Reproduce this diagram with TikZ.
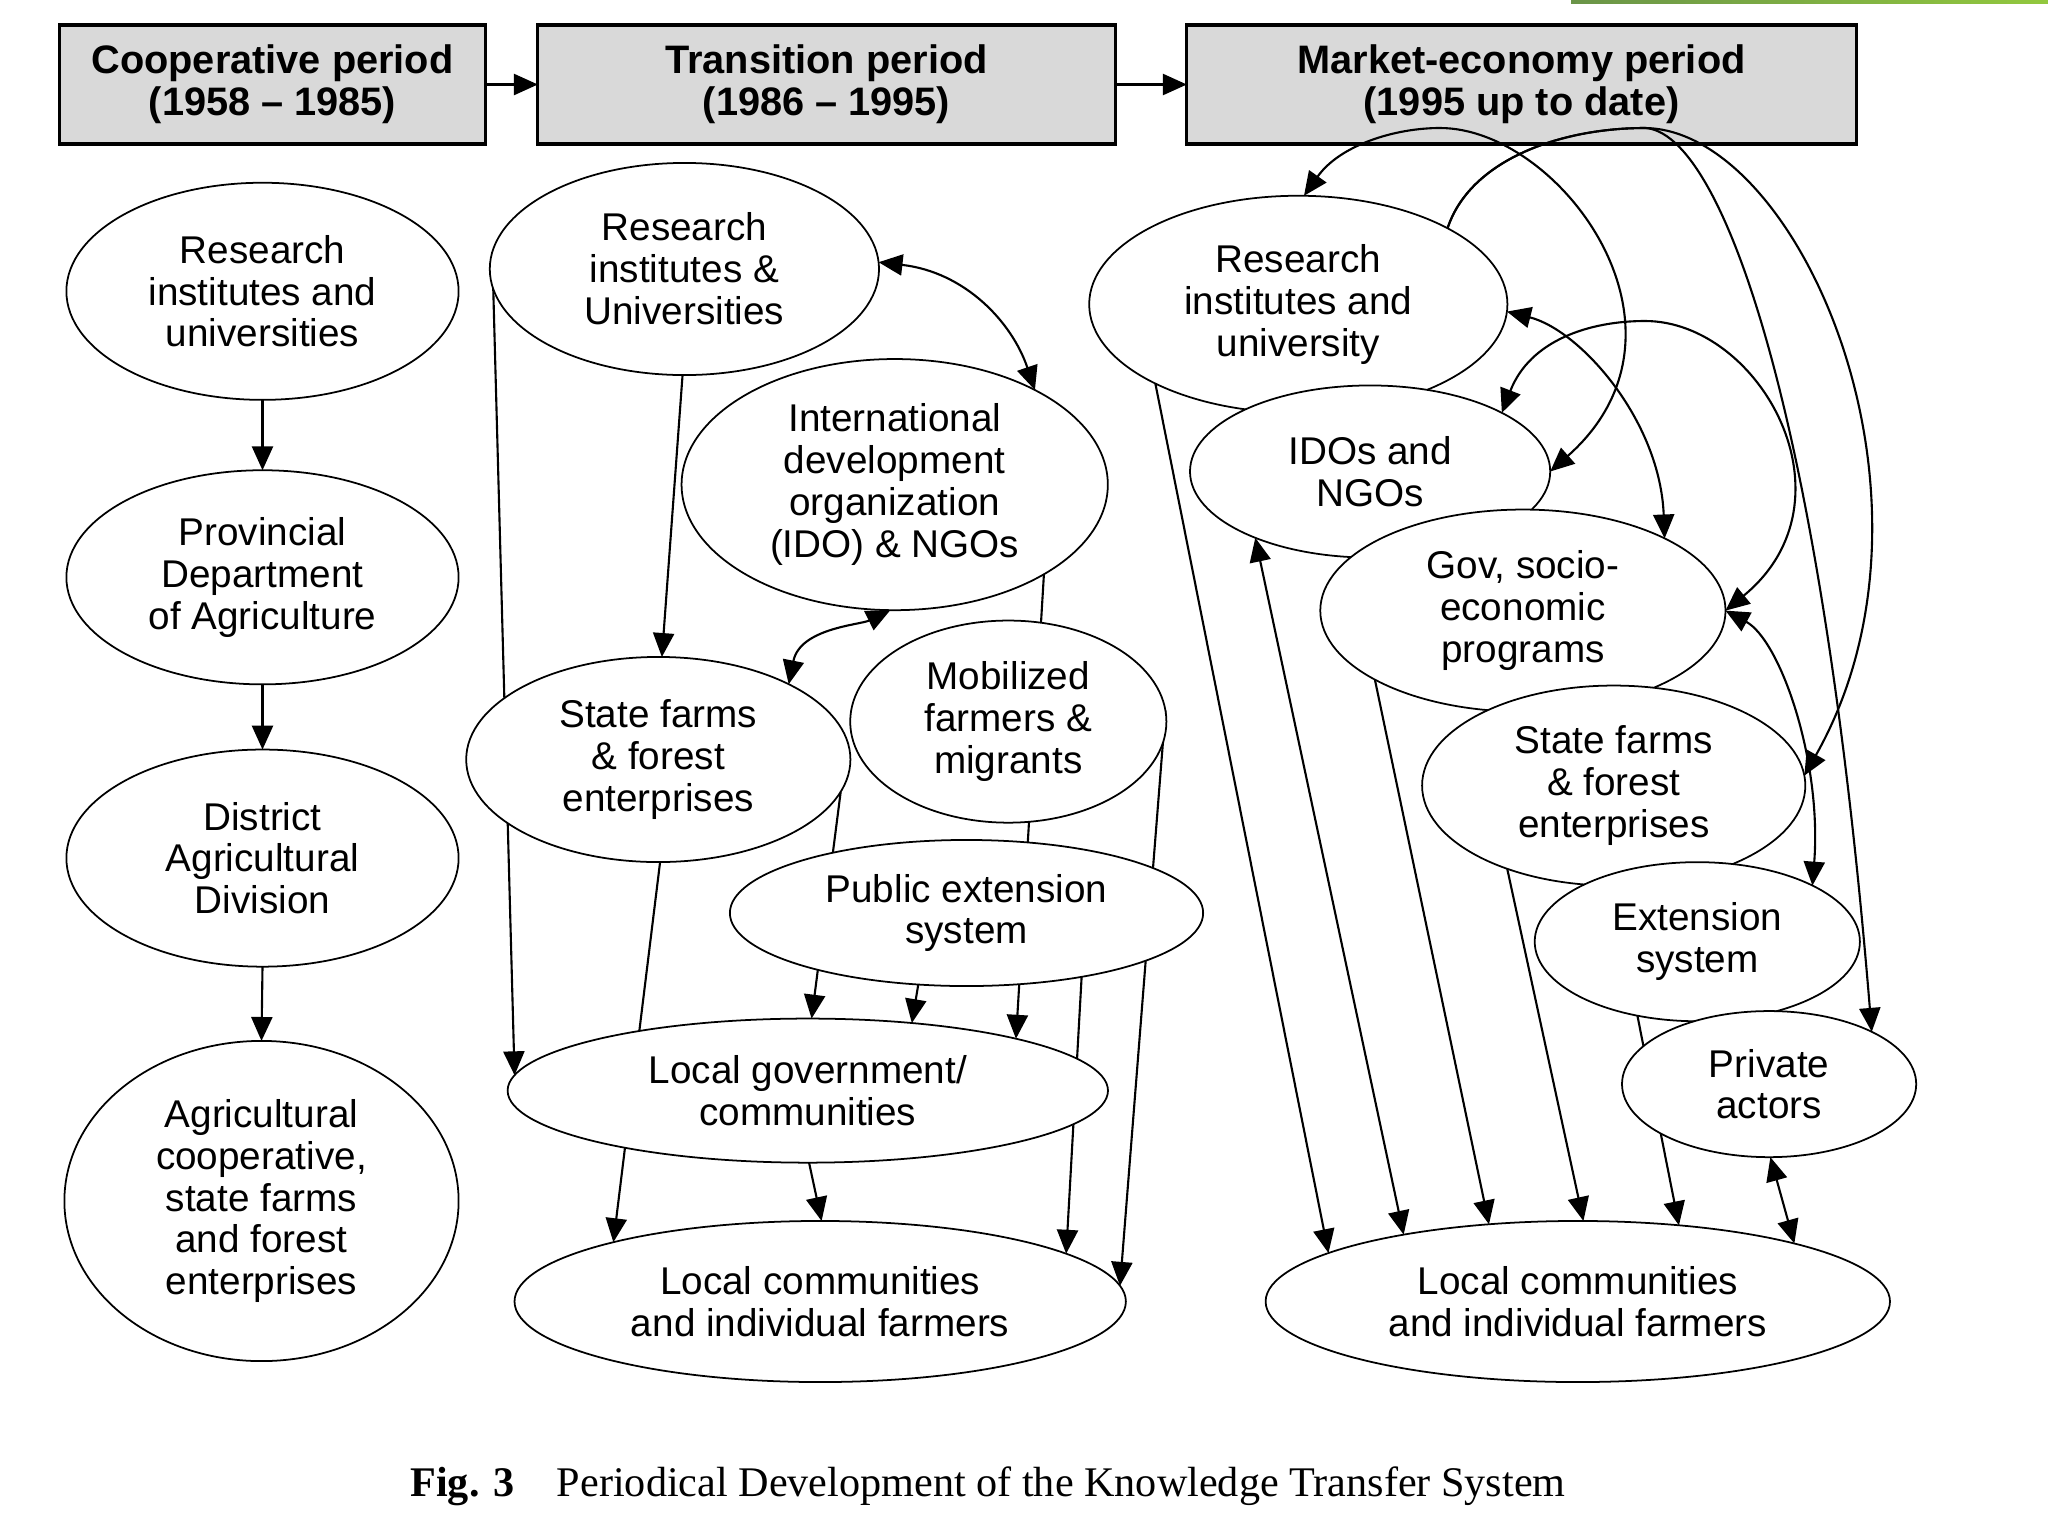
\documentclass[tikz,border=0pt]{standalone}
\usepackage{fontspec}
\setmainfont{Liberation Sans}
\newfontfamily\capfont{Liberation Serif}
\usetikzlibrary{arrows.meta,shapes.geometric}
\pgfdeclarelayer{back}
\pgfdeclarelayer{mid}
\pgfsetlayers{back,mid,main}
\definecolor{hdrgray}{HTML}{D9D9D9}
\definecolor{gdark}{HTML}{6A9448}
\definecolor{glight}{HTML}{92C83E}
\tikzset{
 ell/.style={ellipse, draw=black, line width=0.5pt, fill=white, inner sep=0pt, outer sep=0pt, align=center, font=\fontsize{11}{11.9}\selectfont},
 hdr/.style={rectangle, draw=black, line width=0.9pt, fill=hdrgray, inner sep=0pt, outer sep=0pt, align=center, font=\bfseries\fontsize{11.3}{11.95}\selectfont},
 arr/.style={line width=0.6pt, -{Triangle[length=6.8pt,width=6pt]}},
 darr/.style={line width=0.6pt, {Triangle[length=6.8pt,width=6pt]}-{Triangle[length=6.8pt,width=6pt]}},
}
\begin{document}
\begin{tikzpicture}[x=0.01cm,y=-0.01cm]
\useasboundingbox (0,0) rectangle (2048,1536);

% header boxes
\begin{pgfonlayer}{back}
\fill[white] (0,0) rectangle (2048,1536);
\shade[left color=gdark, right color=glight] (1571,0) rectangle (2048,3);
\node[hdr, minimum width=4.25cm, minimum height=1.19cm] (H1) at (272.5,84.5) {Cooperative period\\(1958 -- 1985)};
\node[hdr, minimum width=5.77cm, minimum height=1.19cm] (H2) at (826.5,84.5) {Transition period\\(1986 -- 1995)};
\node[hdr, minimum width=6.69cm, minimum height=1.19cm] (H3) at (1521.5,84.5) {Market-economy period\\(1995 up to date)};
\end{pgfonlayer}

% cooperative period column
\node[ell, minimum width=3.92cm, minimum height=2.17cm] (L1) at (262.5,291.3) {Research\\institutes and\\universities};
\node[ell, minimum width=3.92cm, minimum height=2.14cm] (L2) at (262.5,577.3) {Provincial\\Department\\of Agriculture};
\node[ell, minimum width=3.92cm, minimum height=2.17cm] (L3) at (262.5,858.1) {District\\Agricultural\\Division};
\node[ell, minimum width=3.94cm, minimum height=3.20cm] (L4) at (261.5,1201) {Agricultural\\cooperative,\\state farms\\and forest\\enterprises};

% transition period column
\node[ell, minimum width=3.89cm, minimum height=2.12cm] (T1) at (684.4,269) {Research\\institutes \&\\Universities};
\node[ell, minimum width=4.26cm, minimum height=2.51cm] (T2) at (894.7,484.6) {International\\development\\organization\\(IDO) \& NGOs};
\node[ell, minimum width=3.84cm, minimum height=2.05cm] (T3) at (658.3,759.5) {State farms\\\& forest\\enterprises};
\node[ell, minimum width=3.16cm, minimum height=2.02cm] (T4) at (1008.3,721.6) {Mobilized\\farmers \&\\migrants};
\node[ell, minimum width=4.73cm, minimum height=1.46cm] (T5) at (966.5,913) {Public extension\\system};
\node[ell, minimum width=6.00cm, minimum height=1.44cm] (T6) at (807.8,1090.6) {Local government/\\communities};
\node[ell, minimum width=6.11cm, minimum height=1.61cm] (T7) at (820.2,1301.5) {Local communities\\and individual farmers};

% market-economy period column
\node[ell, minimum width=4.18cm, minimum height=2.17cm] (M1) at (1298.3,304.3) {Research\\institutes and\\university};
\node[ell, minimum width=3.60cm, minimum height=1.72cm] (M2) at (1370.1,471.5) {IDOs and\\NGOs};
\node[ell, minimum width=4.05cm, minimum height=2.02cm] (M3) at (1522.9,610.6) {Gov, socio-\\economic\\programs};
\node[ell, minimum width=3.83cm, minimum height=2.00cm] (M4) at (1613.7,785.6) {State farms\\\& forest\\enterprises};
\node[ell, minimum width=3.25cm, minimum height=1.59cm] (M5) at (1697.3,941.7) {Extension\\system};
\node[ell, minimum width=2.94cm, minimum height=1.46cm] (M6) at (1769.1,1084.1) {Private\\actors};
\node[ell, minimum width=6.24cm, minimum height=1.61cm] (M7) at (1577.8,1301.5) {Local communities\\and individual farmers};

% caption
\node[font=\capfont\fontsize{12}{14}\selectfont, inner sep=0pt] (cap) at (988,1486) {\textbf{Fig. 3}\hspace{1em}Periodical Development of the Knowledge Transfer System};

\begin{pgfonlayer}{mid}
% header arrows
\draw[arr] (H1.east) -- (H2.west);
\draw[arr] (H2.east) -- (H3.west);
% cooperative
\draw[arr] (L1.south) -- (L2.north);
\draw[arr] (L2.south) -- (L3.north);
\draw[arr] (L3.south) -- (L4.north);
% transition
\draw[arr] (T1.175) -- (T6.177);
\draw[arr] (T1.-91) -- (T3.88);
\draw[darr] (T1.2) .. controls (965,272) and (1012,322) .. (T2.34);
\draw[darr] (T2.-92) .. controls (860,625) and (800,628) .. (T3.30);
\draw[arr] (T2.-31) -- (T6.14);
\draw[arr] (T3.-10) -- (T6.87);
\draw[arr] (T5.-124) -- (T6.33);
\draw[arr] (T5.-29) -- (T7.11);
\draw[arr] (T4.4) -- (T7.3);
\draw[arr] (T3.-89) -- (T7.164);
\draw[arr] (T6.-89) -- (T7.89);
% market economy
\draw[arr] (M1.209) -- (M7.169);
\draw[darr] (M2.210) -- (M7.159);
\draw[arr] (M3.205) -- (M7.139);
\draw[arr] (M4.218) -- (M7.86);
\draw[arr] (M5.231) -- (M7.37);
\draw[darr] (M6.-89) -- (M7.15);
\coordinate (apexA) at (1440,128);
\coordinate (apexB) at (1645,128);
\coordinate (apexC) at (1645,321);
\draw[darr] (M1.87) .. controls (1340,145) and (1395,128) .. (apexA) .. controls (1560,128) and (1710,330) .. (M2.0);
\draw[arr] (M1.27) .. controls (1470,160) and (1560,128) .. (apexB) .. controls (1720,132) and (1820,400) .. (M6.27);
\draw[arr] (M1.27) .. controls (1470,160) and (1560,128) .. (apexB) .. controls (1800,130) and (1960,500) .. (M4.3);
\draw[darr] (M1.-2) .. controls (1580,330) and (1660,420) .. (M3.27);
\draw[darr] (M2.24) .. controls (1530,340) and (1590,321) .. (apexC) .. controls (1760,321) and (1860,500) .. (M3.0);
\draw[darr] (M3.0) .. controls (1780,640) and (1822,760) .. (M5.26);
\end{pgfonlayer}
\end{tikzpicture}
\end{document}
